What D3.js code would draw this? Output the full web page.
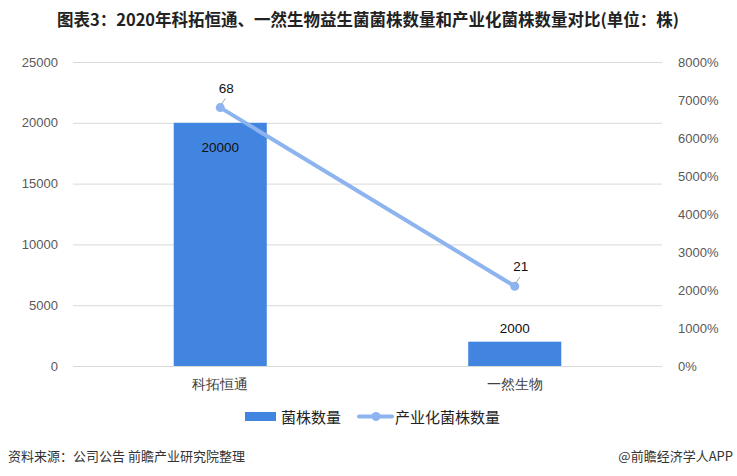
<!DOCTYPE html>
<html>
<head>
<meta charset="utf-8">
<script src="https://cdn.jsdelivr.net/npm/d3@7"></script>
<style>
  html, body { margin: 0; padding: 0; background: #fff; }
  svg { display: block; font-family: "Noto Sans CJK SC", "Noto Sans", sans-serif; }
</style>
</head>
<body>
<svg id="chart" width="737" height="476"></svg>
<script>
const categories = ["科拓恒通", "一然生物"];
const strainCounts = [20000, 2000];
const industrialCounts = [68, 21];
const leftTicks = [0, 5000, 10000, 15000, 20000, 25000];
const rightTicks = [0, 10, 20, 30, 40, 50, 60, 70, 80];
const seriesNames = ["菌株数量", "产业化菌株数量"];
const titleText = "图表3：2020年科拓恒通、一然生物益生菌菌株数量和产业化菌株数量对比(单位：株)";
const sourceText = "资料来源：公司公告 前瞻产业研究院整理";
const creditText = "@前瞻经济学人APP";

const barColor = "#4285e0";
const lineColor = "#8db4ef";
const svg = d3.select("#chart");

const plot = { left: 73, right: 662, top: 62, bottom: 366 };

const x = d3.scaleBand().domain(categories).range([plot.left, plot.right])
  .paddingInner(0.684).paddingOuter(0.342);
const yL = d3.scaleLinear().domain([0, 25000]).range([plot.bottom, plot.top]);
const yR = d3.scaleLinear().domain([0, 80]).range([plot.bottom, plot.top]);

// title
svg.append("text").attr("x", 368).attr("y", 26).attr("text-anchor", "middle")
  .attr("font-size", 16.5).attr("font-weight", "bold").attr("fill", "#222")
  .text(titleText);

// gridlines
svg.append("g").selectAll("line").data(leftTicks).join("line")
  .attr("x1", plot.left).attr("x2", plot.right)
  .attr("y1", d => yL(d) + 0.5).attr("y2", d => yL(d) + 0.5)
  .attr("stroke", "#d9d9d9").attr("stroke-width", 1);

// left axis
const leftAxis = svg.append("g").attr("transform", `translate(${plot.left - 12},0)`)
  .call(d3.axisLeft(yL).tickValues(leftTicks).tickSize(0).tickFormat(d3.format("d")));
leftAxis.select(".domain").remove();
leftAxis.selectAll("text").attr("font-size", 13).attr("fill", "#595959")
  .attr("font-family", "\"Liberation Sans\", Arial, sans-serif");

// right axis
const rightAxis = svg.append("g").attr("transform", `translate(${plot.right + 13},0)`)
  .call(d3.axisRight(yR).tickValues(rightTicks).tickSize(0).tickFormat(d3.format(".0%")));
rightAxis.select(".domain").remove();
rightAxis.selectAll("text").attr("font-size", 13).attr("fill", "#595959")
  .attr("font-family", "\"Liberation Sans\", Arial, sans-serif");

// category axis
const bottomAxis = svg.append("g").attr("transform", `translate(0,${plot.bottom + 10})`)
  .call(d3.axisBottom(x).tickSize(0));
bottomAxis.select(".domain").remove();
bottomAxis.selectAll("text").attr("font-size", 14).attr("fill", "#404040");

// bars
svg.append("g").selectAll("rect").data(categories).join("rect")
  .attr("x", d => x(d)).attr("width", x.bandwidth())
  .attr("y", (d, i) => yL(strainCounts[i]))
  .attr("height", (d, i) => yL(0) - yL(strainCounts[i]))
  .attr("fill", barColor);

// bar labels
svg.append("g").selectAll("text").data(categories).join("text")
  .attr("x", d => x(d) + x.bandwidth() / 2)
  .attr("y", (d, i) => i === 0 ? yL(strainCounts[i]) + 29 : yL(strainCounts[i]) - 9)
  .attr("text-anchor", "middle").attr("font-size", 13.5).attr("fill", "#111")
  .attr("font-family", "\"Liberation Sans\", Arial, sans-serif")
  .text((d, i) => strainCounts[i]);

// line
const cx = d => x(d) + x.bandwidth() / 2;
const line = d3.line().x(d => cx(d)).y((d, i) => yR(industrialCounts[i]));
svg.append("path").datum(categories).attr("d", line)
  .attr("fill", "none").attr("stroke", lineColor).attr("stroke-width", 4)
  .attr("stroke-linecap", "round");
svg.append("g").selectAll("circle").data(categories).join("circle")
  .attr("cx", cx).attr("cy", (d, i) => yR(industrialCounts[i]))
  .attr("r", 4.5).attr("fill", lineColor);

// leader lines + labels
svg.append("g").selectAll("line").data(categories).join("line")
  .attr("x1", d => cx(d) + 1).attr("y1", (d, i) => yR(industrialCounts[i]) - 3)
  .attr("x2", d => cx(d) + 5).attr("y2", (d, i) => yR(industrialCounts[i]) - 9)
  .attr("stroke", "#a6a6a6").attr("stroke-width", 1);
svg.append("g").selectAll("text").data(categories).join("text")
  .attr("x", d => cx(d) + 6).attr("y", (d, i) => yR(industrialCounts[i]) - 15)
  .attr("text-anchor", "middle").attr("font-size", 13.5).attr("fill", "#111")
  .attr("font-family", "\"Liberation Sans\", Arial, sans-serif")
  .text((d, i) => industrialCounts[i]);

// legend
const lg = svg.append("g").attr("transform", "translate(0,418)");
lg.append("rect").attr("x", 245).attr("y", -6).attr("width", 31).attr("height", 9).attr("fill", barColor);
lg.append("text").attr("x", 281).attr("y", 5).attr("font-size", 15).attr("fill", "#222").text(seriesNames[0]);
lg.append("line").attr("x1", 359).attr("x2", 392).attr("y1", -1.5).attr("y2", -1.5)
  .attr("stroke", lineColor).attr("stroke-width", 4).attr("stroke-linecap", "round");
lg.append("circle").attr("cx", 376).attr("cy", -1.5).attr("r", 4.5).attr("fill", lineColor);
lg.append("text").attr("x", 395).attr("y", 5).attr("font-size", 15).attr("fill", "#222").text(seriesNames[1]);

// footer
svg.append("text").attr("x", 8).attr("y", 461).attr("font-size", 13).attr("fill", "#333").text(sourceText);
svg.append("text").attr("x", 733).attr("y", 461).attr("text-anchor", "end").attr("font-size", 13).attr("fill", "#333").text(creditText);
</script>
</body>
</html>
